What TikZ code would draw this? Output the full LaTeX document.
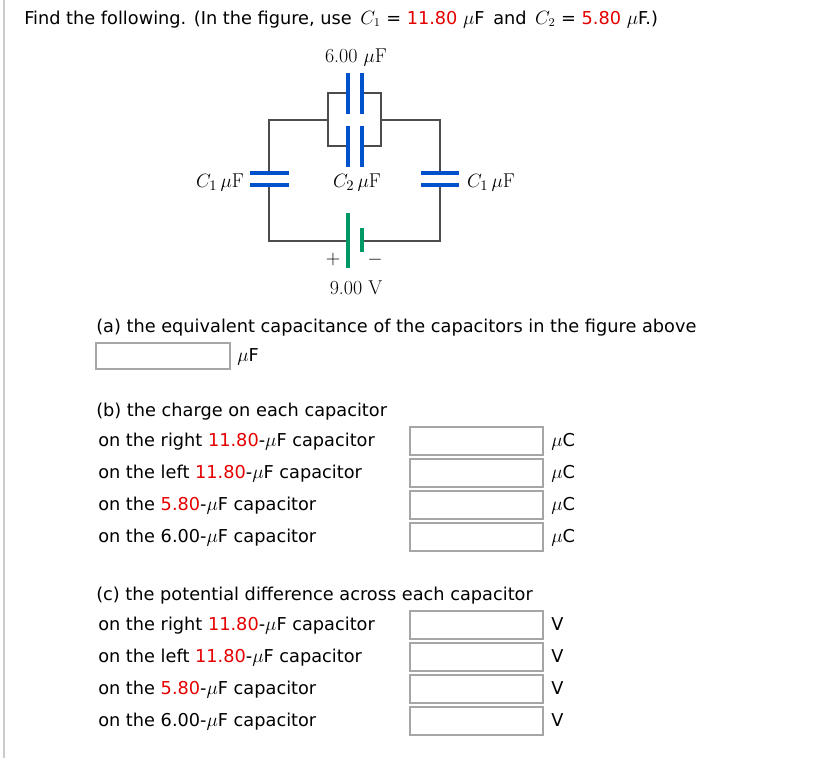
\documentclass[tikz,border=0pt]{standalone}
\usepackage{fontspec}
\setmainfont{DejaVu Sans}
\newfontfamily\lmr{Latin Modern Roman}
\begin{document}
\begin{tikzpicture}[x=0.75pt,y=-0.75pt,
  txt/.style={anchor=base west,inner sep=0pt,font=\fontsize{13.3pt}{15pt}\selectfont},
  fig/.style={inner sep=0pt,font=\lmr\fontsize{15pt}{17pt}\selectfont},
  wire/.style={draw=black!70,line width=1.1pt},
  plate/.style={draw=blue!60!cyan!80!black,line width=2.3pt},
  bplate/.style={draw=teal!80!green,line width=2.3pt}]
\useasboundingbox (0,0) rectangle (821,758);
\draw[black!20,line width=1pt] (4,0) -- (4,758);
\colorlet{rd}{red!90!black}
\node[txt] (title) at (24,24) {Find the following. (In the figure, use \,$C_1$ = \textcolor{rd}{11.80} $\mu$F \,and\, $C_2$ = \textcolor{rd}{5.80} $\mu$F.)};
% circuit
\coordinate (tl) at (269,120); \coordinate (tr) at (440,120);
\coordinate (bl) at (269,241); \coordinate (br) at (440,241);
\draw[wire] (269,173) -- (tl) -- (328,120) -- (328,93) -- (348,93);
\draw[wire] (328,120) -- (328,146) -- (348,146);
\draw[wire] (362,93) -- (381,93) -- (381,146) -- (362,146);
\draw[wire] (381,120) -- (tr) -- (440,173);
\draw[wire] (269,185) -- (bl) -- (348,241);
\draw[wire] (362,241) -- (br) -- (440,185);
\draw[plate] (348,73) -- (348,114) (362,73) -- (362,114);
\draw[plate] (348,126) -- (348,167) (362,126) -- (362,167);
\draw[plate] (250,173) -- (289,173) (250,185) -- (289,185);
\draw[plate] (421,173) -- (459,173) (421,185) -- (459,185);
\draw[bplate] (348,213) -- (348,268); \draw[bplate] (362,228) -- (362,252);
\node[fig] (l6) at (356,58) {6.00 $\mu$F};
\node[fig] (lc1) at (220,183) {$C_1\,\mu$F};
\node[fig] (lc2) at (357,183) {$C_2\,\mu$F};
\node[fig] (rc1) at (491,183) {$C_1\,\mu$F};
\node[fig] (pl) at (333,260) {+};
\node[fig] (mn) at (375,260) {$-$};
\node[fig] (v9) at (356,288) {9.00 V};
% (a)
\node[txt] (a) at (96,332) {(a) the equivalent capacitance of the capacitors in the figure above};
\draw[black!35,line width=0.8pt] (96,343) rectangle (230,369);
\node[txt] (au) at (237,361) {$\mu$F};
% (b)
\node[txt] (b) at (96,416) {(b) the charge on each capacitor};
\foreach \y/\t/\u in {446/{on the right \textcolor{rd}{11.80}-$\mu$F capacitor}/$\mu$C,
  478/{on the left \textcolor{rd}{11.80}-$\mu$F capacitor}/$\mu$C,
  510/{on the \textcolor{rd}{5.80}-$\mu$F capacitor}/$\mu$C,
  542/{on the 6.00-$\mu$F capacitor}/$\mu$C,
  630/{on the right \textcolor{rd}{11.80}-$\mu$F capacitor}/V,
  662/{on the left \textcolor{rd}{11.80}-$\mu$F capacitor}/V,
  694/{on the \textcolor{rd}{5.80}-$\mu$F capacitor}/V,
  726/{on the 6.00-$\mu$F capacitor}/V}{
  \node[txt] at (98,\y) {\t};
  \draw[black!35,line width=0.8pt] (410,\y-19) rectangle (543,\y+9);
  \node[txt] at (551,\y) {\u};
}
\node[txt] (c) at (96,600) {(c) the potential difference across each capacitor};
\end{tikzpicture}
\end{document}
